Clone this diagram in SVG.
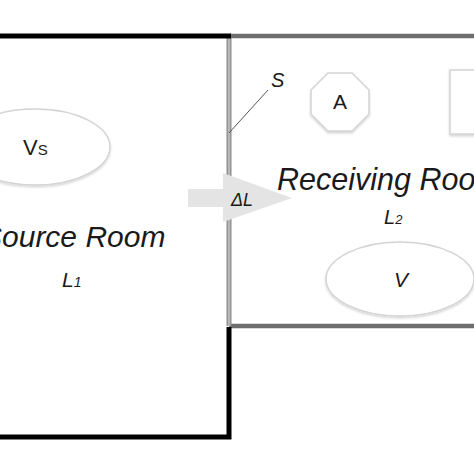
<svg xmlns="http://www.w3.org/2000/svg" width="474" height="474" viewBox="0 0 474 474">
<defs>
<style>
.t{font-family:"Liberation Sans",Arial,sans-serif;fill:#1a1a1a}
.it{font-style:italic}
.bub{fill:#fff;stroke:#d4d4d4;stroke-width:1.5}
</style>
<filter id="sh" x="-10%" y="-10%" width="120%" height="130%">
<feDropShadow dx="0" dy="1.5" stdDeviation="1" flood-color="#000" flood-opacity="0.18"/>
</filter>
</defs>
<rect width="474" height="474" fill="#fff"/>
<g id="receiving-room">
<path d="M229,36 H474 M229,326 H474" stroke="#6e6e6e" stroke-width="4.5" fill="none"/>
</g>
<g id="shared-wall">
<line x1="229" y1="38" x2="229" y2="326" stroke="#8a8a8a" stroke-width="5"/>
<line x1="229" y1="38" x2="229" y2="326" stroke="#b8b8b8" stroke-width="2.5"/>
</g>
<g id="source-room">
<path d="M0,36 H231 M229,327 V437 H0" stroke="#000" stroke-width="5" fill="none"/>
</g>
<g id="vs-node">
<ellipse class="bub" cx="35" cy="147" rx="75" ry="38" filter="url(#sh)"/>
<text class="t" x="23" y="155" font-size="22">V<tspan font-size="15">S</tspan></text>
</g>
<g id="source-label">
<text class="t it" x="-18" y="247" font-size="30">Source Room</text>
<text class="t it" x="62" y="287" font-size="21">L<tspan font-size="14">1</tspan></text>
</g>
<g id="a-node">
<polygon class="bub" filter="url(#sh)" points="328,73 352,73 369,90 369,114 352,131 328,131 311,114 311,90"/>
<text class="t" x="340" y="109" font-size="21" text-anchor="middle">A</text>
</g>
<g id="box-node">
<rect class="bub" x="450" y="70" width="40" height="64" filter="url(#sh)"/>
</g>
<g id="receiving-label">
<text class="t it" x="277" y="190" font-size="30.5">Receiving Room</text>
<text class="t it" x="384" y="224" font-size="20">L<tspan font-size="13">2</tspan></text>
</g>
<g id="v-node">
<ellipse class="bub" cx="400" cy="279" rx="74" ry="37" filter="url(#sh)"/>
<text class="t it" x="394" y="287" font-size="21">V</text>
</g>
<g id="connectors">
<polygon id="delta-arrow" points="188,189 223,189 223,173 292,198 223,222 223,207 188,207" fill="#e4e4e4"/>
<text class="t it" x="231" y="206" font-size="18">ΔL</text>
<line x1="268" y1="90" x2="229" y2="133" stroke="#555" stroke-width="1"/>
<text class="t it" x="271" y="87" font-size="20">S</text>
</g>
</svg>
